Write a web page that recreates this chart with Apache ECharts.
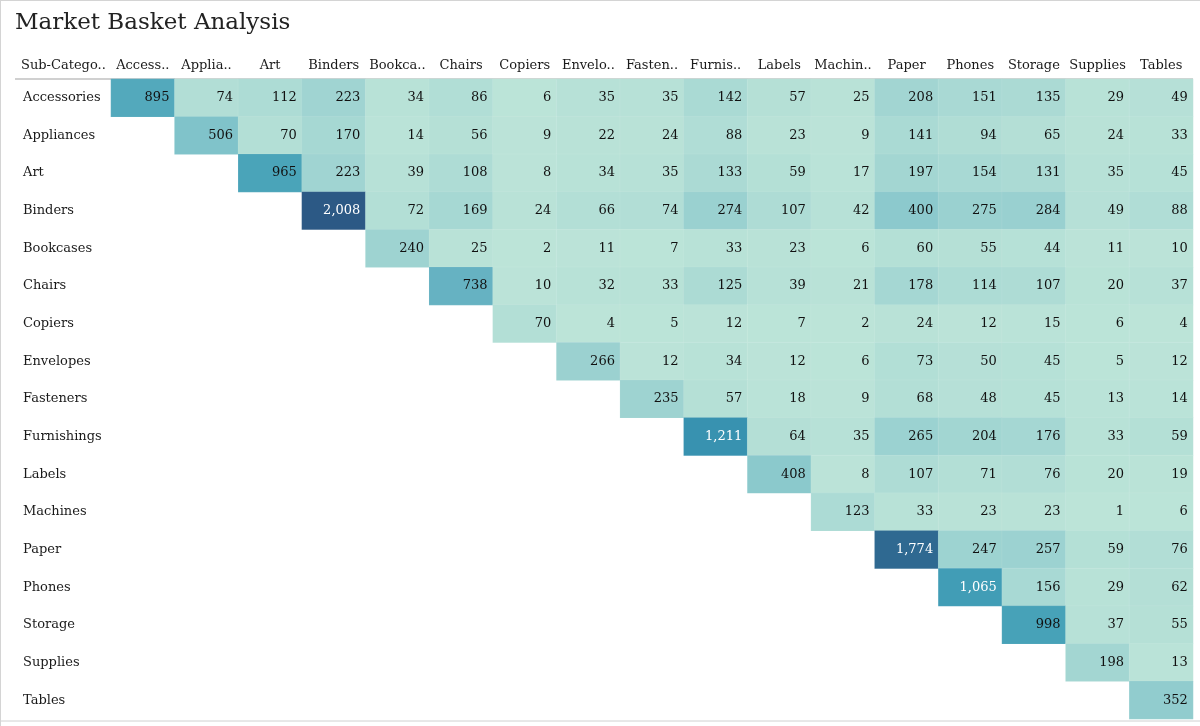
<!DOCTYPE html>
<html>
<head>
<meta charset="utf-8">
<title>Market Basket Analysis</title>
<script src="https://cdn.jsdelivr.net/npm/echarts@6/dist/echarts.min.js"></script>
<style>
  html, body { margin: 0; padding: 0; background: #fff; }
  #chart { width: 1200px; height: 726px; box-sizing: border-box; border-top: 1px solid #d4d4d4; border-left: 1px solid #d4d4d4; }
</style>
</head>
<body>
<div id="chart"></div>
<script>
// sub-categories (rows and columns)
const categories = ['Accessories', 'Appliances', 'Art', 'Binders', 'Bookcases', 'Chairs', 'Copiers',
  'Envelopes', 'Fasteners', 'Furnishings', 'Labels', 'Machines', 'Paper', 'Phones', 'Storage', 'Supplies', 'Tables']

// column header text as shown (truncated)
const columnLabels = ['Access..', 'Applia..', 'Art', 'Binders', 'Bookca..', 'Chairs', 'Copiers', 'Envelo..',
  'Fasten..', 'Furnis..', 'Labels', 'Machin..', 'Paper', 'Phones', 'Storage', 'Supplies', 'Tables']

// orders containing both sub-categories; row i starts at column i
const pairCounts = [
  [895, 74, 112, 223, 34, 86, 6, 35, 35, 142, 57, 25, 208, 151, 135, 29, 49],
  [506, 70, 170, 14, 56, 9, 22, 24, 88, 23, 9, 141, 94, 65, 24, 33],
  [965, 223, 39, 108, 8, 34, 35, 133, 59, 17, 197, 154, 131, 35, 45],
  [2008, 72, 169, 24, 66, 74, 274, 107, 42, 400, 275, 284, 49, 88],
  [240, 25, 2, 11, 7, 33, 23, 6, 60, 55, 44, 11, 10],
  [738, 10, 32, 33, 125, 39, 21, 178, 114, 107, 20, 37],
  [70, 4, 5, 12, 7, 2, 24, 12, 15, 6, 4],
  [266, 12, 34, 12, 6, 73, 50, 45, 5, 12],
  [235, 57, 18, 9, 68, 48, 45, 13, 14],
  [1211, 64, 35, 265, 204, 176, 33, 59],
  [408, 8, 107, 71, 76, 20, 19],
  [123, 33, 23, 23, 1, 6],
  [1774, 247, 257, 59, 76],
  [1065, 156, 29, 62],
  [998, 37, 55],
  [198, 13],
  [352]
]

const blueTeal = ['#bce4d8', '#aedcd5', '#a1d5d2', '#95cecf', '#89c8cc', '#7ec1ca', '#72bac6', '#66b2c2',
  '#59acbe', '#4ba5ba', '#419eb6', '#3b96b2', '#358ead', '#3586a7', '#347ea1', '#32779b', '#316f96',
  '#2f6790', '#2d608a', '#2c5985']

const font = '"DejaVu Serif", "Liberation Serif", serif'

const cells = []
pairCounts.forEach((row, i) => {
  row.forEach((v, k) => {
    const j = i + k
    cells.push({
      value: [j, i, v],
      label: { color: v > 1000 ? '#ffffff' : '#111111' }
    })
  })
})

const chart = echarts.init(document.getElementById('chart'))
chart.setOption({
  animation: false,
  title: {
    text: 'Market Basket Analysis',
    left: 9,
    top: 6,
    textStyle: { fontFamily: font, fontSize: 23, fontWeight: 'normal', color: '#222' }
  },
  grid: { left: 110, top: 78, width: 1082, height: 640 },
  xAxis: {
    type: 'category',
    position: 'top',
    data: categories,
    axisLine: { show: false },
    axisTick: { show: false },
    splitLine: { show: false },
    axisLabel: {
      interval: 0,
      margin: 7,
      fontFamily: font,
      fontSize: 13,
      color: '#1a1a1a',
      formatter: (val, idx) => columnLabels[idx]
    }
  },
  yAxis: {
    type: 'category',
    inverse: true,
    data: categories,
    axisLine: { show: false },
    axisTick: { show: false },
    splitLine: { show: false },
    axisLabel: {
      interval: 0,
      align: 'left',
      margin: 88,
      fontFamily: font,
      fontSize: 13,
      color: '#1a1a1a'
    }
  },
  visualMap: {
    show: false,
    type: 'continuous',
    min: 1,
    max: 2008,
    dimension: 2,
    inRange: { color: blueTeal }
  },
  graphic: [
    { type: 'text', left: 20, top: 58, style: { text: 'Sub-Catego..', fontFamily: font, fontSize: 13, fill: '#1a1a1a' } },
    { type: 'line', shape: { x1: 14, y1: 78, x2: 1192, y2: 78 }, style: { stroke: '#d0d0d0', lineWidth: 2 } },
    { type: 'line', shape: { x1: 0, y1: 720, x2: 1200, y2: 720 }, style: { stroke: '#d0d0d0', lineWidth: 1 } }
  ],
  series: [{
    type: 'heatmap',
    data: cells,
    itemStyle: { borderColor: 'rgba(255,255,255,0.08)', borderWidth: 1 },
    label: {
      show: true,
      position: 'insideRight',
      distance: 6,
      fontFamily: font,
      fontSize: 13,
      formatter: p => p.value[2].toLocaleString('en-US')
    },
    emphasis: { disabled: true }
  }]
})
</script>
</body>
</html>
